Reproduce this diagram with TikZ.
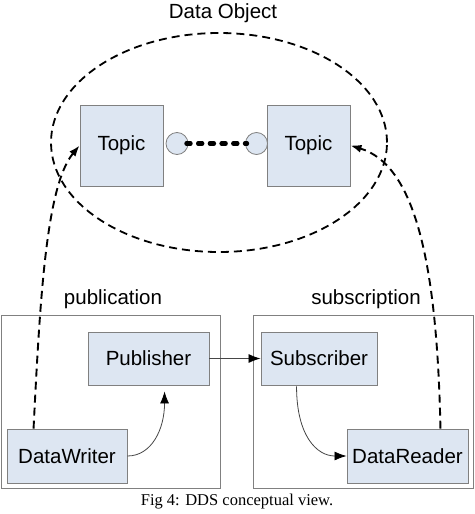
\documentclass[tikz,border=0pt]{standalone}
\usepackage{fontspec}
\setmainfont{Liberation Sans}
\newfontfamily\capfont{Liberation Serif}
\usetikzlibrary{arrows.meta,calc,shapes.geometric}
\definecolor{boxfill}{RGB}{221,230,242}
\definecolor{boxline}{RGB}{128,128,128}
\definecolor{thinarr}{RGB}{70,70,70}
\tikzset{
  blk/.style={draw=boxline, fill=boxfill, line width=0.9pt, inner sep=0pt, font=\fontsize{20.5}{24}\selectfont},
  grp/.style={draw=boxline, line width=0.9pt},
  lbl/.style={inner sep=0pt, font=\fontsize{20.5}{24}\selectfont},
  port/.style={circle, draw=boxline, fill=boxfill, line width=0.8pt, minimum size=22pt, inner sep=0pt},
  dashconn/.style={line width=1.9pt, dash pattern=on 8pt off 5pt, -{Latex[length=11pt,width=8pt]}},
  thinconn/.style={draw=thinarr, line width=0.8pt, -{Latex[length=12pt,width=9pt,color=black]}}
}
\begin{document}
\begin{tikzpicture}[x=1pt,y=-1pt]
\useasboundingbox (0,0) rectangle (474,514);
% title and ellipse
\node[lbl] (title) at (223,13) {Data Object};
\node[draw, ellipse, line width=1.8pt, dash pattern=on 8pt off 5pt, minimum width=336pt, minimum height=219pt, inner sep=0pt] (obj) at (219,142.5) {};
% topics
\node[blk, minimum width=83pt, minimum height=81pt] (t1) at (121.5,145.5) {Topic};
\node[blk, minimum width=83pt, minimum height=81pt] (t2) at (308.5,145.5) {Topic};
\node[port] (p1) at (177,143.5) {};
\node[port] (p2) at (256.5,143.5) {};
\draw[line width=4.2pt, line cap=round, dash pattern=on 4.2pt off 7.5pt] ($(p1.east)+(-2,0)$) -- ($(p2.west)+(2,0)$);
% groups
\node[lbl] (publab) at (113,299) {publication};
\node[lbl] (sublab) at (366,299) {subscription};
\node[grp, minimum width=219pt, minimum height=173pt, inner sep=0pt] (pubgrp) at (110.5,401.5) {};
\node[grp, minimum width=220pt, minimum height=173pt, inner sep=0pt] (subgrp) at (363,401.5) {};
% boxes
\node[blk, minimum width=121pt, minimum height=53pt] (pub) at (148.5,358.5) {Publisher};
\node[blk, minimum width=120pt, minimum height=54pt] (dw) at (67,456) {DataWriter};
\node[blk, minimum width=116pt, minimum height=53pt] (sub) at (319,358.5) {Subscriber};
\node[blk, minimum width=121pt, minimum height=54pt] (dr) at (407.5,456) {DataReader};
% connectors
\draw[thinconn] (pub.east) -- (sub.west);
\coordinate (pubin) at ($(pub.south west)+(77,6)$);
\draw[thinconn] (dw.east) .. controls ($(dw.east)+(24,0)$) and ($(pubin)+(0,38)$) .. (pubin);
\draw[thinconn] ($(sub.south west)+(36,1)$) .. controls ($(sub.south west)+(36,50)$) and ($(dr.west)+(-30,0)$) .. (dr.west);
\draw[dashconn] ($(dw.north west)+(27,0)$) .. controls (40,300) and (46,186) .. (t1.west);
\draw[dashconn] ($(dr.north east)+(-28,0)$) .. controls (437,262) and (415,165) .. (t2.east);
% caption
\node[inner sep=0pt, font=\capfont\fontsize{16.5}{20}\selectfont] (cap) at (237,502) {Fig 4: DDS conceptual view.};
\end{tikzpicture}
\end{document}
